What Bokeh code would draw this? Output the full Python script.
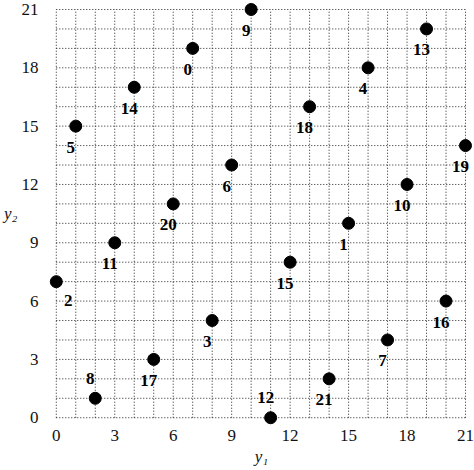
from bokeh.plotting import figure
from bokeh.models import Range1d, FixedTicker, ColumnDataSource, LabelSet
from bokeh.embed import file_html
from bokeh.resources import INLINE

# data
ids = list(range(22))
y1 = [7, 15, 0, 8, 16, 1, 9, 17, 2, 10, 18, 3, 11, 19, 4, 12, 20, 5, 13, 21, 6, 14]
y2 = [19, 10, 7, 5, 18, 15, 13, 4, 1, 21, 12, 9, 0, 20, 17, 8, 6, 3, 16, 14, 11, 2]
anchor = ["bl", "bl", "br", "bl", "bl", "bl", "bl", "bl", "al", "bl", "bl",
          "bl", "al", "bl", "bl", "bl", "bl", "bl", "bl", "bl", "bl", "bl"]
tick_vals = [0, 3, 6, 9, 12, 15, 18, 21]
grid_vals = list(range(0, 22))

offsets = {"bl": (-5, -21), "al": (-5, 20), "br": (12, -19)}
xo = [offsets[a][0] for a in anchor]
yo = [offsets[a][1] for a in anchor]

src = ColumnDataSource(dict(x=y1, y=y2, t=[str(i) for i in ids], xo=xo, yo=yo))

p = figure(width=474, height=470, output_backend="svg", toolbar_location=None,
           x_range=Range1d(-0.4, 21.462), y_range=Range1d(-0.4, 21.463),
           min_border_left=48, min_border_right=0, min_border_top=0, min_border_bottom=45)
p.outline_line_color = None
p.xgrid.visible = False
p.ygrid.visible = False

gmin, gmax = grid_vals[0], grid_vals[-1]
p.segment(x0=grid_vals, y0=gmin, x1=grid_vals, y1=gmax, line_color="#222222",
          line_width=1, line_dash="1 2")
p.segment(x0=gmin, y0=grid_vals, x1=gmax, y1=grid_vals, line_color="#222222",
          line_width=1, line_dash="1 2")

p.scatter("x", "y", source=src, size=12, color="black")

labels = LabelSet(x="x", y="y", text="t", x_offset="xo", y_offset="yo", source=src,
                  text_align="center", text_baseline="middle",
                  text_font="Liberation Serif", text_font_style="bold",
                  text_font_size="17px", text_color="black")
p.add_layout(labels)

for ax in (p.xaxis[0], p.yaxis[0]):
    ax.ticker = FixedTicker(ticks=tick_vals)
    ax.axis_line_color = None
    ax.major_tick_line_color = None
    ax.minor_tick_line_color = None
    ax.major_tick_out = 0
    ax.major_tick_in = 0
    ax.major_label_text_font = "Liberation Serif"
    ax.major_label_text_font_size = "17px"
    ax.major_label_text_color = "#111111"
    ax.axis_label_text_font = "Liberation Serif"
    ax.axis_label_text_font_style = "italic"
    ax.axis_label_text_font_size = "17px"
    ax.axis_label_text_color = "#111111"

p.xaxis[0].axis_label = "y\u2081"
p.yaxis[0].axis_label = "y\u2082"
p.xaxis[0].major_label_standoff = 4
p.xaxis[0].axis_label_standoff = 3
p.yaxis[0].major_label_standoff = 10
p.yaxis[0].major_label_text_align = "center"
p.yaxis[0].axis_label_standoff = 1
p.yaxis[0].axis_label_orientation = "horizontal"

open("out.html", "w").write(file_html(p, INLINE))
